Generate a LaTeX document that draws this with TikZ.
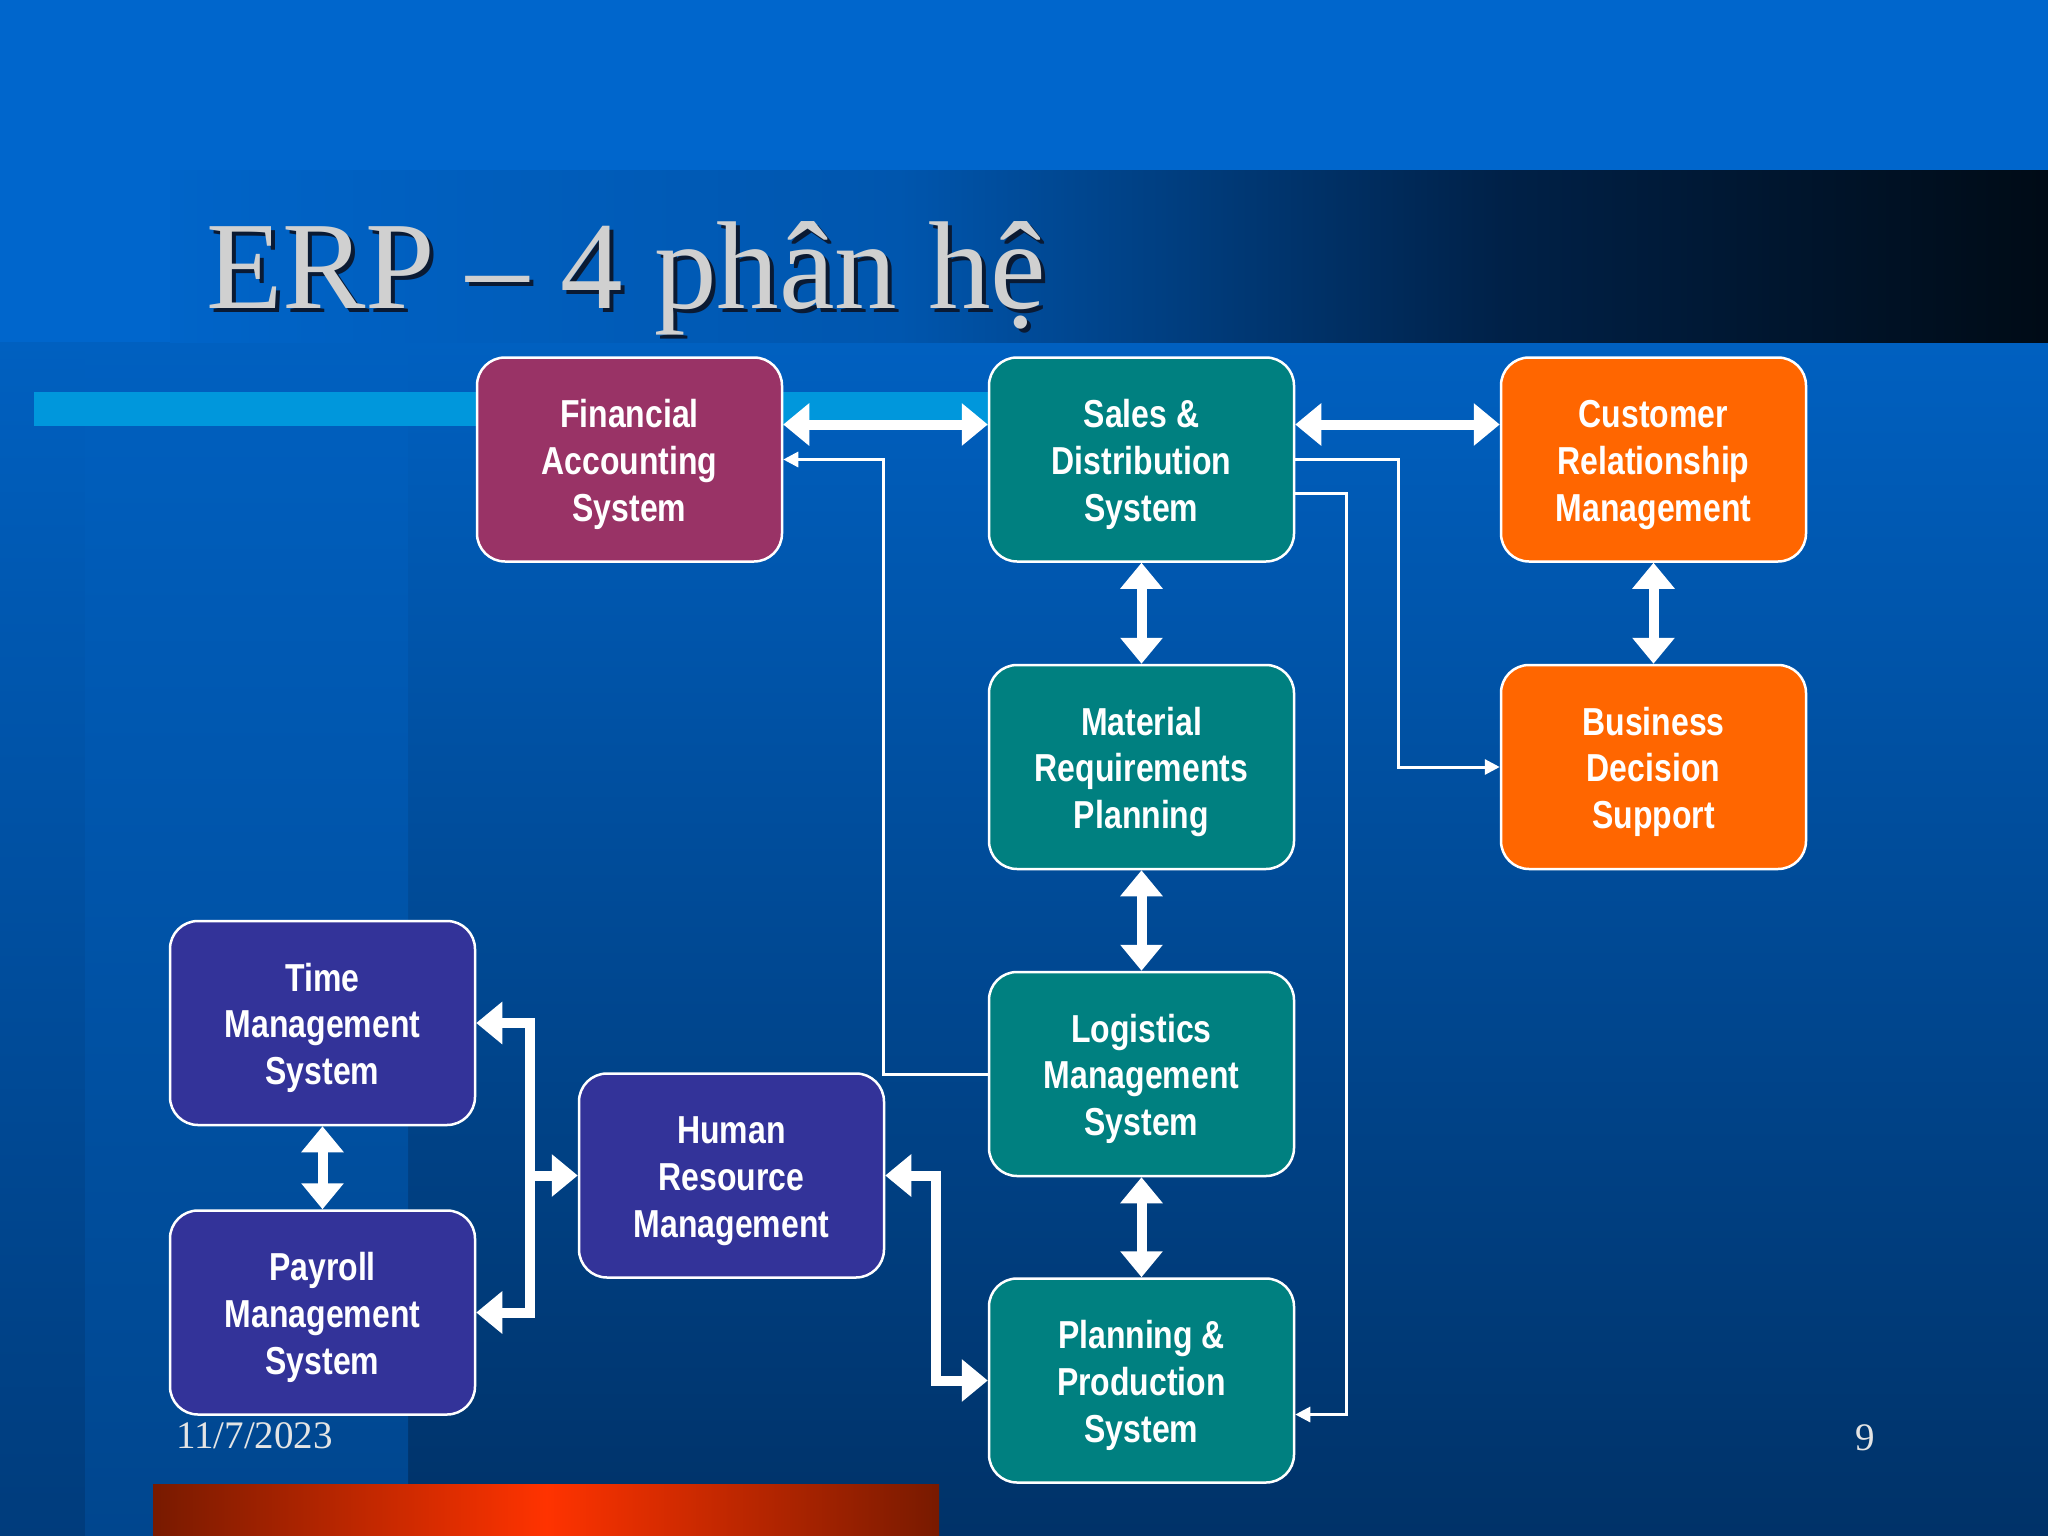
\documentclass[tikz,border=0pt]{standalone}
\usepackage{fontspec}
\usetikzlibrary{arrows.meta}
\newfontfamily\boxfont[FakeStretch=0.82]{Liberation Sans}
\newfontfamily\titlefont{Liberation Serif}
\newcommand{\topstrut}{\rule{0pt}{38pt}}
\definecolor{bgtop}{HTML}{0066CC}
\definecolor{bgmid}{HTML}{0060C0}
\definecolor{bgbot}{HTML}{003268}
\definecolor{colmid}{HTML}{0060C0}
\definecolor{colbot}{HTML}{00468E}
\definecolor{stripbot}{HTML}{003C7C}
\definecolor{bandA}{HTML}{0064C8}
\definecolor{bandB}{HTML}{0056AE}
\definecolor{bandC}{HTML}{002148}
\definecolor{bandD}{HTML}{000B16}
\definecolor{lightbar}{HTML}{0097DC}
\definecolor{redD}{HTML}{781A00}
\definecolor{redB}{HTML}{FF3300}
\definecolor{finc}{HTML}{993366}
\definecolor{tealc}{HTML}{008080}
\definecolor{orangec}{HTML}{FF6600}
\definecolor{purplec}{HTML}{333399}
\definecolor{titlec}{HTML}{D0D0D0}
\definecolor{shadowc}{HTML}{0A1A33}
\definecolor{datec}{HTML}{E4E4E4}
\begin{document}
\begin{tikzpicture}[x=1pt,y=-1pt,
  box/.style={draw=white, line width=2.5pt, rounded corners=28pt,
    minimum width=305pt, minimum height=204pt, inner sep=0pt,
    align=center, text=white,
    font=\boxfont\bfseries\fontsize{39}{46.7}\selectfont},
  finbox/.style={box, fill=finc},
  tealbox/.style={box, fill=tealc},
  orangebox/.style={box, fill=orangec},
  purplebox/.style={box, fill=purplec},
  big/.style={draw=white, line width=10pt, >={Triangle[width=41pt,length=26pt]}},
  conn/.style={draw=white, line width=3pt, -{Triangle[width=15pt,length=15pt]}},
  footer/.style={inner sep=0pt, anchor=base west, text=datec,
    font=\titlefont\fontsize{39}{44}\selectfont}
]
\useasboundingbox (0,0) rectangle (2048,1536);
% background
\fill[bgtop] (0,0) rectangle (2048,342);
\shade[top color=bgmid, bottom color=bgbot] (0,342) rectangle (2048,1536);
\shade[top color=bgmid, bottom color=stripbot] (0,342) rectangle (85,1536);
\shade[top color=colmid, bottom color=colbot] (85,342) rectangle (408,1536);
% title band
\shade[left color=bandA, right color=bandB] (170,170) rectangle (900,342);
\shade[left color=bandB, right color=bandC] (899,170) rectangle (1500,342);
\shade[left color=bandC, right color=bandD] (1499,170) rectangle (2048,342);
% light bar
\fill[lightbar] (34,392) rectangle (989,426);
% red bar
\shade[left color=redD, right color=redB] (153,1484) rectangle (547,1536);
\shade[left color=redB, right color=redD] (546,1484) rectangle (939,1536);
% title
\node[inner sep=0pt, anchor=base west, text=shadowc,
  font=\titlefont\fontsize{125}{130}\selectfont] (titleshadow) at (210,312) {ERP – 4 phân hệ};
\node[inner sep=0pt, anchor=base west, text=titlec,
  font=\titlefont\fontsize{125}{130}\selectfont] (title) at (206,308) {ERP – 4 phân hệ};
% footer
\node[footer] (date) at (176,1448) {11/7/2023};
\node[footer] (pagenum) at (1855,1450) {9};
% boxes
\node[finbox] (fin) at (629.5,459.5) {\topstrut Financial\\Accounting\\System};
\node[tealbox] (sales) at (1141.5,459.5) {\topstrut Sales \&\\Distribution\\System};
\node[orangebox] (crm) at (1653.5,459.5) {\topstrut Customer\\Relationship\\Management};
\node[tealbox] (mrp) at (1141.5,767) {\topstrut Material\\Requirements\\Planning};
\node[orangebox] (bds) at (1653.5,767) {\topstrut Business\\Decision\\Support};
\node[tealbox] (log) at (1141.5,1074) {\topstrut Logistics\\Management\\System};
\node[tealbox] (plan) at (1141.5,1380.5) {\topstrut Planning \&\\Production\\System};
\node[purplebox] (time) at (322.5,1023) {\topstrut Time\\Management\\System};
\node[purplebox] (pay) at (322.5,1312.5) {\topstrut Payroll\\Management\\System};
\node[purplebox] (hr) at (731.5,1175.5) {\topstrut Human\\Resource\\Management};
% thick connectors
\draw[big,<->] ([yshift=35pt]fin.east) -- ([yshift=35pt]sales.west);
\draw[big,<->] ([yshift=35pt]sales.east) -- ([yshift=35pt]crm.west);
\draw[big,<->] (sales.south) -- (mrp.north);
\draw[big,<->] (mrp.south) -- (log.north);
\draw[big,<->] (log.south) -- (plan.north);
\draw[big,<->] (crm.south) -- (bds.north);
\draw[big,<->] (time.south) -- (pay.north);
\draw[big,<->] (time.east) -- ++(54,0) |- (pay.east);
\draw[big,->] ([xshift=-50pt]hr.west) -- (hr.west);
\draw[big,<->] (hr.east) -- ++(51,0) |- (plan.west);
% thin connectors
\draw[conn] (log.west) -- ++(-104,0) |- (fin.east);
\draw[conn] (sales.east) -- ++(103,0) |- (bds.west);
\draw[conn] ([yshift=-34pt]sales.east) -- ++(51,0) |- ([yshift=-34pt]plan.east);
\end{tikzpicture}
\end{document}
